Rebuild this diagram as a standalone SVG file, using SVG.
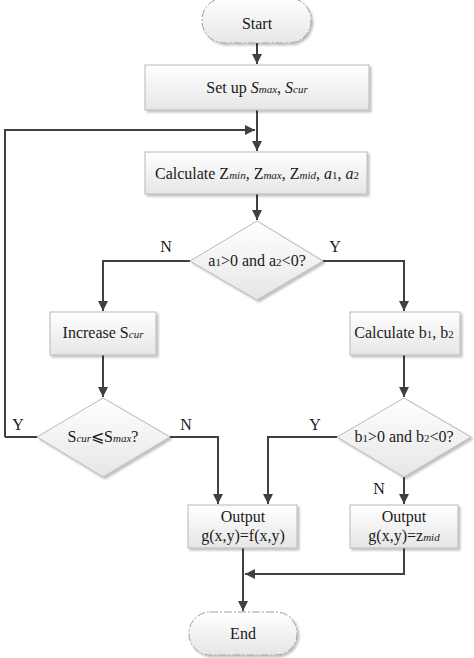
<svg xmlns="http://www.w3.org/2000/svg" width="474" height="658" viewBox="0 0 474 658">
<defs>
<linearGradient id="g" x1="0" y1="0" x2="0" y2="1"><stop offset="0" stop-color="#ffffff"/><stop offset="1" stop-color="#e6e6e6"/></linearGradient>
<marker id="ah" viewBox="0 0 10 10" refX="10" refY="5" markerWidth="10" markerHeight="10" markerUnits="userSpaceOnUse" orient="auto"><path d="M0,0 L10,5 L0,10 z" fill="#404040"/></marker>
<filter id="sh" x="-10%" y="-10%" width="130%" height="140%"><feDropShadow dx="2" dy="2" stdDeviation="1.2" flood-color="#000" flood-opacity="0.25"/></filter>
</defs>
<style>
.box{fill:url(#g);stroke:#b8b8b8;stroke-width:1;filter:url(#sh)}
.term{fill:url(#g);stroke:#a0a0a0;stroke-width:1;stroke-dasharray:8 2 2 2;filter:url(#sh)}
.ln{fill:none;stroke:#404040;stroke-width:2}
.ar{fill:none;stroke:#404040;stroke-width:2;marker-end:url(#ah)}
text{font-family:"Liberation Serif","Times New Roman",serif;font-size:16px;fill:#1a1a1a;text-anchor:middle}
.s{font-size:11px;font-style:italic}
.n{font-size:11px}
.i{font-style:italic}
</style>
<g id="connectors">
<path class="ar" d="M257,43 V64"/>
<path class="ar" d="M257,110 V151"/>
<path class="ar" d="M5,437 H37 M5,437 V130 H255"/>
<path class="ar" d="M257,194 V220"/>
<path class="ar" d="M190,261 H103 V311"/>
<path class="ar" d="M323,261 H404 V311"/>
<path class="ar" d="M103,355 V397"/>
<path class="ar" d="M404,355 V397"/>
<path class="ar" d="M170,437 H218 V504"/>
<path class="ar" d="M337,437 H268 V504"/>
<path class="ar" d="M404,477 V504"/>
<path class="ar" d="M243,548 V611"/>
<path class="ar" d="M404,548 V574 H245"/>
</g>
<g id="start"><rect class="term" x="202" y="-2" width="109" height="45" rx="22"/><text x="257" y="29">Start</text></g>
<g id="setup"><rect class="box" x="145" y="65" width="224" height="45"/><text x="257" y="93">Set up <tspan class="i">S</tspan><tspan class="s">max</tspan>, <tspan class="i">S</tspan><tspan class="s">cur</tspan></text></g>
<g id="calc"><rect class="box" x="145" y="152" width="222" height="42"/><text x="257" y="179">Calculate Z<tspan class="s">min</tspan>, Z<tspan class="s">max</tspan>, Z<tspan class="s">mid</tspan>, <tspan class="i">a</tspan><tspan class="n">1</tspan>, <tspan class="i">a</tspan><tspan class="n">2</tspan></text></g>
<g id="dec1"><polygon class="box" points="257,221 323,261 257,300 190,261"/><text x="257" y="266">a<tspan class="n">1</tspan>&gt;0 and a<tspan class="n">2</tspan>&lt;0?</text></g>
<g id="incr"><rect class="box" x="50" y="312" width="106" height="43"/><text x="103" y="338">Increase S<tspan class="s">cur</tspan></text></g>
<g id="calcb"><rect class="box" x="350" y="312" width="110" height="43"/><text x="404" y="338">Calculate b<tspan class="n">1</tspan>, b<tspan class="n">2</tspan></text></g>
<g id="dec2"><polygon class="box" points="103,398 170,437 103,477 37,437"/><text x="103" y="442">S<tspan class="s">cur</tspan>⩽S<tspan class="s">max</tspan>?</text></g>
<g id="dec3"><polygon class="box" points="404,398 471,437 404,477 337,437"/><text x="404" y="442">b<tspan class="n">1</tspan>&gt;0 and b<tspan class="n">2</tspan>&lt;0?</text></g>
<g id="out1"><rect class="box" x="188" y="505" width="109" height="43"/><text x="243" y="522">Output</text><text x="243" y="541">g(x,y)=f(x,y)</text></g>
<g id="out2"><rect class="box" x="350" y="505" width="108" height="43"/><text x="404" y="522">Output</text><text x="404" y="541">g(x,y)=z<tspan class="s">mid</tspan></text></g>
<g id="end"><rect class="term" x="189" y="612" width="108" height="43" rx="21"/><text x="243" y="639">End</text></g>
<g id="labels">
<text x="166" y="252">N</text><text x="335" y="252">Y</text>
<text x="18" y="430">Y</text><text x="186" y="430">N</text>
<text x="315" y="430">Y</text><text x="379" y="494">N</text>
</g>
</svg>
